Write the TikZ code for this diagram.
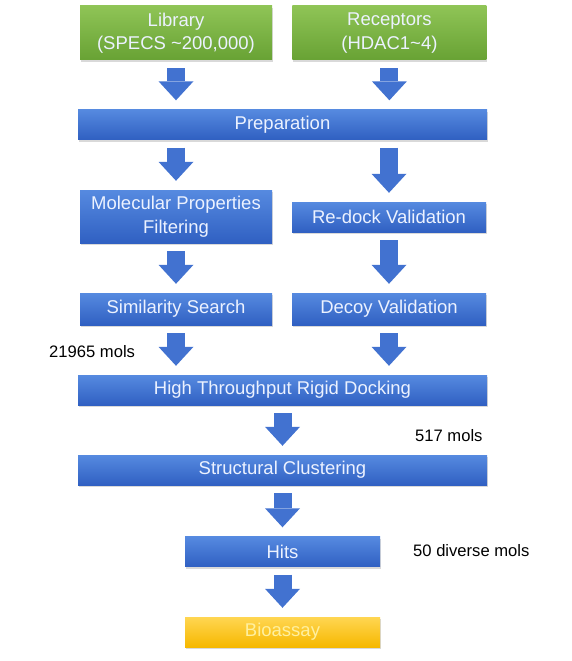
\documentclass[tikz,border=0pt]{standalone}
\usepackage{fontspec}
\setmainfont{Liberation Sans}
\usetikzlibrary{arrows.meta,positioning,calc,shadows}

\definecolor{greentop}{RGB}{143,196,86}
\definecolor{greenbot}{RGB}{104,162,52}
\definecolor{bluetop}{RGB}{86,138,224}
\definecolor{bluebot}{RGB}{48,96,194}
\definecolor{flowblue}{RGB}{66,114,208}
\definecolor{yellowtop}{RGB}{255,214,82}
\definecolor{yellowbot}{RGB}{246,184,0}
\definecolor{boxtext}{RGB}{236,242,255}
\definecolor{biotext}{RGB}{255,240,160}

\begin{document}
\begin{tikzpicture}[
  x=1pt, y=-1pt,
  font=\fontsize{18.5}{23.5}\selectfont,
  box/.style={align=center, inner sep=0pt, text=boxtext,
    drop shadow={shadow xshift=1pt, shadow yshift=-2pt, opacity=0.3}},
  gbox/.style={box, top color=greentop, bottom color=greenbot, minimum width=192pt, minimum height=54pt},
  bbox/.style={box, top color=bluetop, bottom color=bluebot, minimum width=192pt, minimum height=30pt},
  bar/.style={bbox, minimum width=409pt},
  ybox/.style={box, top color=yellowtop, bottom color=yellowbot, text=biotext, minimum width=195pt, minimum height=30pt},
  lbl/.style={font=\fontsize{16.6}{20}\selectfont, anchor=west, inner sep=0pt},
  flow/.style={draw=flowblue, line width=18pt, shorten <=8pt, shorten >=9pt,
    -{Triangle[width=35pt, length=19pt, line width=0pt]}}
]
\useasboundingbox (0,0) rectangle (571,661);

\node[gbox] (lib) at (176,33) {Library\\(SPECS \textasciitilde200,000)};
\node[gbox, minimum width=194pt, right=20pt of lib] (rec) {Receptors\\(HDAC1\textasciitilde4)};
\node[bar] (prep) at (282.5,124.5) {Preparation};
\node[bbox, minimum height=53pt] (mpf) at (176,216.5) {Molecular Properties\\Filtering};
\node[bbox, minimum width=194pt] (redock) at (389,217) {Re-dock Validation};
\node[bbox, minimum height=32pt] (sim) at (176,309) {Similarity Search};
\node[bbox, minimum width=194pt, minimum height=32pt] (decoy) at (389,309) {Decoy Validation};
\node[bar] (htrd) at (282.5,390) {High Throughput Rigid Docking};
\node[bar] (clust) at (282.5,470) {Structural Clustering};
\node[bbox, minimum width=195pt] (hits) at (282.5,551.5) {Hits};
\node[ybox] (bio) at (282.5,632) {Bioassay};

\node[lbl] (nsim) at (49,352) {21965 mols};
\node[lbl] (ndock) at (415,436) {517 mols};
\node[lbl] (nhits) at (413,551) {50 diverse mols};

\draw[flow] (lib.south) -- (lib.south |- prep.north);
\draw[flow] (rec.south) -- (rec.south |- prep.north);
\draw[flow] (prep.south -| mpf) -- (mpf.north);
\draw[flow] (prep.south -| redock) -- (redock.north);
\draw[flow] (mpf.south) -- (sim.north);
\draw[flow] (redock.south) -- (decoy.north);
\draw[flow] (sim.south) -- (sim.south |- htrd.north);
\draw[flow] (decoy.south) -- (decoy.south |- htrd.north);
\draw[flow] (htrd.south) -- (clust.north);
\draw[flow] (clust.south) -- (hits.north);
\draw[flow] (hits.south) -- (bio.north);
\end{tikzpicture}
\end{document}
